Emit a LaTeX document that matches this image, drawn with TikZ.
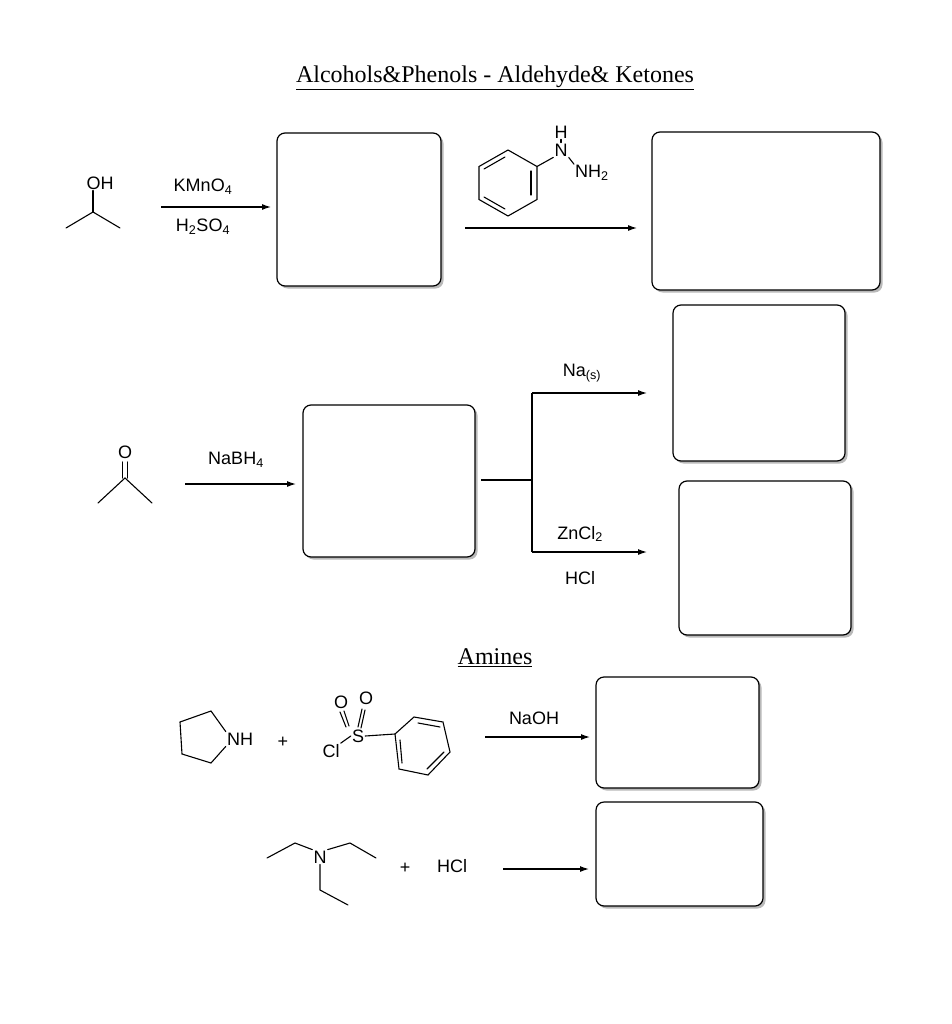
\documentclass[tikz,border=0pt]{standalone}
\usepackage{fontspec}
\setmainfont{Liberation Sans}
\newfontfamily\tnr{Liberation Serif}
\usetikzlibrary{arrows.meta}
\begin{document}
\begin{tikzpicture}[x=1pt,y=-1pt,
  bx/.style={draw,rounded corners=8,line width=1.2,fill=white},
  rx/.style={-{Latex[length=9,width=6]},line width=1.2},
  bond/.style={line width=1.1,line cap=round},
  lbl/.style={font=\fontsize{18}{20}\selectfont,inner sep=1},
  ttl/.style={font=\tnr\fontsize{24}{26}\selectfont,inner sep=1}]
\useasboundingbox (0,0) rectangle (951,1024);
% titles
\node[ttl] (t1) at (495,78) {\underline{Alcohols\&Phenols - Aldehyde\& Ketones}};
\node[ttl] (t2) at (495,658) {\underline{Amines}};
% boxes
\foreach \a/\b/\c/\d/\n in {277/133/441/286/B1,652/132/880/290/B2,673/305/845/461/B3,303/405/475/557/B4,679/481/851/635/B5,596/677/759/788/B6,596/802/763/906/B7}{
  \fill[gray!55,rounded corners=8] (\a+2.5,\b+2.5) rectangle (\c+2.5,\d+2.5);
  \draw[bx] (\a,\b) rectangle (\c,\d);
}
% isopropanol
\node[lbl] (oh) at (100,183) {OH};
\coordinate (c1) at (93,212);
\draw[bond] (66,228) -- (c1) -- (120,228);
\draw[bond] (c1) -- (oh.south -| c1);
\draw[rx] (161,207) -- (271,207);
\node[lbl] (k) at (203,187) {KMnO\textsubscript{4}};
\node[lbl] (h) at (203,227) {H\textsubscript{2}SO\textsubscript{4}};
% phenylhydrazine
\draw[bond] (508,150) -- (537,166.5) -- (537,199.5) -- (508,216) -- (479,199.5) -- (479,166.5) -- cycle;
\draw[bond] (531,171) -- (531,195);
\draw[bond] (505,209) -- (484,197);
\draw[bond] (484,169) -- (505,157);
\node[lbl] (n1) at (561,150) {N};
\node[lbl] (h1) at (561,132) {H};
\node[lbl,anchor=west] (nh2) at (574,173) {NH\textsubscript{2}};
\draw[bond] (537,166.5) -- (n1.south west);
\draw[bond] (n1.south east) -- (nh2.north west);
\draw[bond] (h1.south) -- (n1.north);
\draw[rx] (465,228) -- (637,228);
% acetone
\node[lbl] (o2) at (125,452) {O};
\coordinate (c2) at (125,478);
\draw[bond] (98,503) -- (c2) -- (152,503);
\draw[bond] (122.5,478) -- (122.5,462);
\draw[bond] (127.5,478) -- (127.5,462);
\draw[rx] (185,484) -- (296,484);
\node[lbl] at (236,460) {NaBH\textsubscript{4}};
% branch
\draw[line width=1.2] (481,480) -- (532,480);
\draw[line width=1.2] (532,393) -- (532,552);
\draw[rx] (532,393) -- (647,393);
\draw[rx] (532,552) -- (647,552);
\node[lbl] at (582,373) {Na\textsubscript{(s)}};
\node[lbl] at (580,534) {ZnCl\textsubscript{2}};
\node[lbl] at (580,578) {HCl};
% pyrrolidine
\node[lbl] (nh) at (240,739) {NH};
\draw[bond] (nh.north west) -- (211,711) -- (180,722) -- (182,754) -- (211,763) -- (nh.south west);
\node[lbl] at (283,742) {+};
% benzenesulfonyl chloride
\node[lbl] (s) at (358,736) {S};
\node[lbl] (o3) at (341,702) {O};
\node[lbl] (o4) at (366,698) {O};
\node[lbl] (cl) at (331,751) {Cl};
\draw[bond] (346,727) -- (340,712);
\draw[bond] (349,726) -- (344,711);
\draw[bond] (358,727) -- (362,709);
\draw[bond] (361,728) -- (365,710);
\draw[bond] (cl.north east) -- (s.west);
\draw[bond] (s.east) -- (395,734);
\draw[bond] (395,734) -- (414,717) -- (443,722) -- (450,752) -- (428,775) -- (399,769) -- cycle;
\draw[bond] (418,723) -- (440,727);
\draw[bond] (444,752) -- (427,769);
\draw[bond] (402,763) -- (400,740);
\draw[rx] (485,737) -- (590,737);
\node[lbl] at (534,718) {NaOH};
% triethylamine
\node[lbl] (n3) at (320,857) {N};
\draw[bond] (267,858) -- (295,843) -- (n3.north west);
\draw[bond] (n3.north east) -- (350,843) -- (376,858);
\draw[bond] (n3.south) -- (320,890) -- (348,905);
\node[lbl] at (405,868) {+};
\node[lbl] at (452,866) {HCl};
\draw[rx] (503,869) -- (589,869);
\end{tikzpicture}
\end{document}
